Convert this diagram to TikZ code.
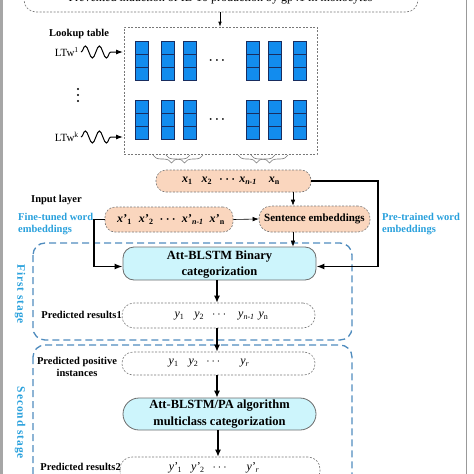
\documentclass[tikz,border=0pt]{standalone}
\usepackage{fontspec}
\setmainfont{Liberation Serif}
\usetikzlibrary{decorations.pathmorphing,decorations.pathreplacing,arrows.meta,calc}
\definecolor{cellblue}{RGB}{18,140,238}
\definecolor{cellline}{RGB}{25,45,95}
\definecolor{salmon}{RGB}{250,214,190}
\definecolor{lcyan}{RGB}{205,245,252}
\definecolor{stageblue}{RGB}{80,140,190}
\definecolor{lblue}{RGB}{40,160,220}
\definecolor{dgray}{RGB}{120,120,120}
\newcommand\bx[1]{\textbf{\textit{x}}\textsubscript{\textbf{#1}}}
\newcommand\bxp[1]{\textbf{\textit{x}\kern0.3pt'}\textsubscript{\textbf{#1}}}
\newcommand\vy[1]{\textit{y}\textsubscript{#1}}
\newcommand\vyp[1]{\textit{y}\kern0.2pt'\kern-0.6pt\textsubscript{#1}}
\newcommand\bdots{{\boldmath$\cdots$}}
\begin{document}
\begin{tikzpicture}[x=1pt,y=-1pt,
  dbox/.style={draw=dgray,dash pattern=on 2pt off 1.5pt,line width=0.6pt,inner sep=0pt},
  catbox/.style={draw=dgray!90!black,fill=lcyan,line width=0.8pt,inner sep=0pt},
  stagebox/.style={draw=stageblue,line width=1.3pt,dash pattern=on 7pt off 4pt,rounded corners=12pt},
  side/.style={font=\fontsize{10.5}{12.5}\selectfont\bfseries,inner sep=0pt,align=left},
  sideblue/.style={side,text=lblue},
  stagelbl/.style={font=\fontsize{11.5}{13}\selectfont\bfseries\addfontfeature{LetterSpace=8},text=lblue,rotate=-90,inner sep=0pt},
  cattext/.style={font=\fontsize{12.5}{16}\selectfont\bfseries,align=center,inner sep=0pt},
  conn/.style={line width=1.6pt},
  arr/.style={line width=1.3pt,-{Latex[length=7pt,width=6pt]}},
  tarr/.style={line width=0.6pt,-{Latex[length=6pt,width=4.5pt]}},
  wave/.style={line width=1pt,decorate,decoration={snake,segment length=14pt,amplitude=6pt,post length=10pt},-{Latex[length=7pt,width=5pt]}}
]
\useasboundingbox (0,0) rectangle (474,474);
% frame lines
\fill[gray!70] (0,0) rectangle (3,474);
\draw[gray!80,line width=0.8pt] (466,0) -- (466,474);

% top box
\node[dbox,rounded corners=12pt,minimum width=394pt,minimum height=26pt] (top) at (221,-1) {};
\node[font=\fontsize{12}{14}\selectfont,inner sep=0pt] (toptext) at (220.5,-1) {Prevented induction of IL-10 production by gp41 in monocytes};

% lookup table
\node[dbox,minimum width=193pt,minimum height=127pt] (lookup) at (220.5,90.5) {};
\draw[line width=0.6pt,-{Latex[length=5pt,width=3.5pt]}] (220,12) -- (lookup.north -| 220,0);
\foreach \cx in {135,161,183,246,268,293}{
  \foreach \ry in {41,100}{
    \foreach \k in {0,1,2}{
      \draw[fill=cellblue,draw=cellline,line width=0.9pt] (\cx,\ry+13.3*\k) rectangle ++(13,13.3);
    }
  }
}
\node[font=\fontsize{12}{12}\selectfont] (dots1) at (217,61) {\bdots};
\node[font=\fontsize{12}{12}\selectfont] (dots2) at (217,120) {\bdots};

\node[side,anchor=west] (lt) at (49,34) {Lookup table};
\node[font=\fontsize{11}{12}\selectfont,inner sep=0pt,anchor=east] (ltw1) at (79,52) {LTw\textsuperscript{1}};
\foreach \yy in {89,95,101}{\fill (78,\yy) circle (1.1pt);}
\node[font=\fontsize{11}{12}\selectfont,inner sep=0pt,anchor=east] (ltwk) at (79,137) {LTw\textsuperscript{k}};
\draw[wave] (ltw1.east) ++(2,0) coordinate (w1s) -- (123,52);
\draw[wave] (ltwk.east) ++(2,0) coordinate (w2s) -- (123,137);

% braces
\foreach \a/\b in {153/190,166/203,238/275,251/288}{
  \draw[dgray,line width=0.6pt,decorate,decoration={brace,mirror,amplitude=8pt}] (\a,155) -- (\b,155);
}

% x box
\node[dbox,fill=salmon,rounded corners=10pt,minimum width=155pt,minimum height=22pt] (xbox) at (233.5,181) {};
\node[font=\fontsize{12}{14}\selectfont,inner sep=0pt] (xtext) at (231,181) {\bx{1}\hspace{9pt}\bx{2}\hspace{7pt}\bdots\hspace{4pt}\textbf{\textit{x}}\textsubscript{\textbf{\textit{n-1}}}\hspace{12pt}\bx{n}};

% input layer labels
\node[side,anchor=west] (il) at (31,200) {Input layer};
\node[sideblue,anchor=west] (ft) at (18,224) {Fine-tuned word\\embeddings};
\node[sideblue,anchor=west] (pt) at (382,224) {Pre-trained word\\embeddings};

% x' box
\node[dbox,fill=salmon,rounded corners=10pt,minimum width=128pt,minimum height=25pt] (xpbox) at (169,219.5) {};
\node[font=\fontsize{12}{14}\selectfont,inner sep=0pt] (xptext) at (171,219.5) {\bxp{1}\hspace{7pt}\bxp{2}\hspace{6pt}\bdots\hspace{6pt}\textbf{\textit{x}\kern0.3pt'}\textsubscript{\textbf{\textit{n-1}}}\hspace{6pt}\bxp{n}};

% sentence embeddings
\node[dbox,fill=salmon,rounded corners=12pt,minimum width=111pt,minimum height=26pt,font=\fontsize{11}{13}\selectfont\bfseries] (sent) at (314.5,219) {Sentence embeddings};

% stage boxes
\draw[stagebox] (33,243) rectangle (352,340);
\draw[stagebox] (33,345) rectangle (352,495);
\node[stagelbl] (s1) at (20,294) {First stage};
\node[stagelbl] (s2) at (20,423) {Second stage};

% Att-BLSTM binary
\node[catbox,rounded corners=11pt,minimum width=193pt,minimum height=33pt] (att1) at (219.5,263.5) {};
\node[cattext] (att1t) at (219.5,265) {Att-BLSTM Binary\\categorization};

% predicted results 1
\node[dbox,rounded corners=12pt,minimum width=193pt,minimum height=25pt] (pr1) at (218.5,315.5) {};
\node[font=\fontsize{12}{14}\selectfont,inner sep=0pt] (pr1t) at (221.5,316) {\vy{1}\hspace{10pt}\vy{2}\hspace{8pt}$\cdots$\hspace{12pt}\textit{y}\textsubscript{\textit{n-1}}\hspace{4pt}\vy{n}};
\node[side,anchor=east] (pr1l) at (122,315) {Predicted results1};

% predicted positive instances
\node[dbox,rounded corners=11pt,minimum width=193pt,minimum height=23pt] (ppos) at (218.5,363.5) {};
\node[font=\fontsize{12}{14}\selectfont,inner sep=0pt] (ppost) at (209,363) {\vy{1}\hspace{10pt}\vy{2}\hspace{8pt}$\cdots$\hspace{20pt}\vy{\textit{r}}};
\node[side,align=center] (ppl) at (77,367) {Predicted positive\\instances};

% Att-BLSTM/PA
\node[catbox,rounded corners=16pt,minimum width=193pt,minimum height=32pt] (att2) at (219.5,414) {};
\node[cattext,font=\fontsize{12.5}{17}\selectfont\bfseries] (att2t) at (219.5,414) {Att-BLSTM/PA algorithm\\multiclass categorization};

% predicted results 2
\node[dbox,rounded corners=12pt,minimum width=200pt,minimum height=26pt] (pr2) at (220,470) {};
\node[font=\fontsize{12}{14}\selectfont,inner sep=0pt] (pr2t) at (214,468) {\vyp{1}\hspace{9pt}\vyp{2}\hspace{8pt}$\cdots$\hspace{20pt}\vyp{\textit{r}}};
\node[side,anchor=east] (pr2l) at (121,467) {Predicted results2};

% connectors
\coordinate (rx) at (378,0);
\coordinate (lx) at (94,0);
\coordinate (sx) at (293,0);
\draw[conn,-{Latex[length=8pt,width=6pt]}] (xbox.east) -- (xbox.east -| rx) |- ([yshift=-3pt]att1.east);
\draw[conn,-{Latex[length=8pt,width=6pt]}] (xpbox.west) -- (xpbox.west -| lx) |- ([yshift=-3pt]att1.west);
\draw[tarr] (xbox.south -| sx) -- (sent.north -| sx);
\draw[tarr] (sent.south -| sx) -- (att1.north -| sx);
\draw[tarr] (xpbox.east) -- (sent.west);
\draw[arr] (att1.south -| 217,0) -- (pr1.north -| 217,0);
\draw[arr] (pr1.south -| 217,0) -- (ppos.north -| 217,0);
\draw[arr] (ppos.south -| 217,0) -- (att2.north -| 217,0);
\draw[arr] (att2.south -| 218,0) -- (pr2.north -| 218,0);
\end{tikzpicture}
\end{document}
